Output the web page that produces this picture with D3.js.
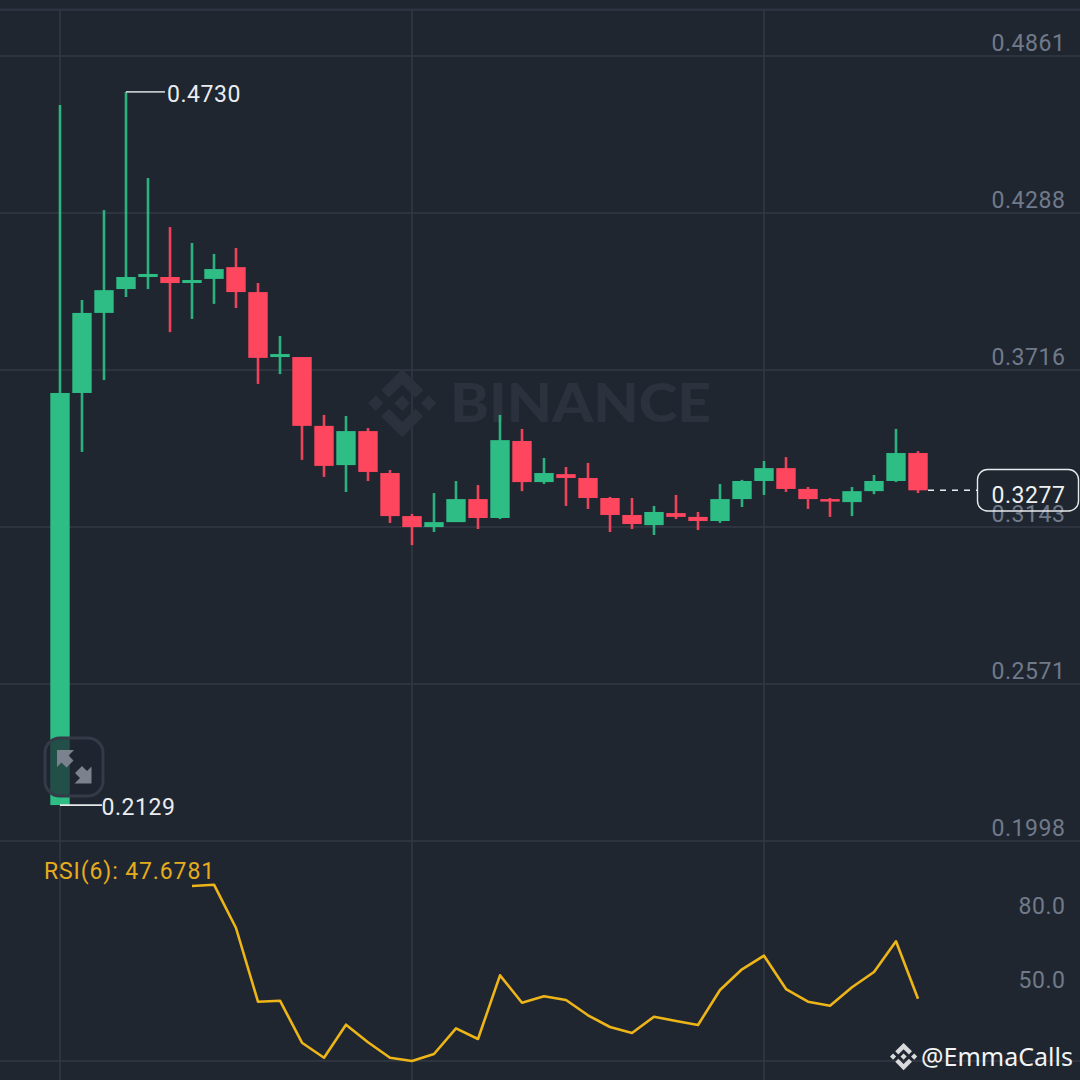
<!DOCTYPE html>
<html><head><meta charset="utf-8">
<script src="https://cdn.jsdelivr.net/npm/d3@7/dist/d3.min.js"></script>
<style>html,body{margin:0;padding:0;background:#1f2630}svg{display:block}text{font-family:Roboto,sans-serif}</style>
</head><body><svg id="c" width="1080" height="1080"></svg>
<script>
const opens=[.2129,.3632,.3924,.4011,.4055,.4055,.4033,.4048,.4091,.4000,.3763,.3763,.3512,.3369,.3493,.3340,.3183,.3143,.3161,.3245,.3176,.3457,.3307,.3336,.3322,.3249,.3187,.3150,.3194,.3180,.3165,.3245,.3311,.3358,.3282,.3245,.3234,.3274,.3311,.3413];
const closes=[.3632,.3924,.4007,.4055,.4066,.4033,.4044,.4084,.4000,.3760,.3774,.3512,.3366,.3493,.3344,.3183,.3143,.3161,.3245,.3176,.3460,.3307,.3340,.3322,.3249,.3187,.3154,.3198,.3180,.3165,.3245,.3311,.3358,.3282,.3245,.3238,.3274,.3311,.3413,.3277];
const highs=[.4682,.3971,.4299,.4730,.4416,.4237,.4179,.4139,.4161,.4033,.3840,.3763,.3552,.3548,.3504,.3351,.3191,.3267,.3311,.3296,.3552,.3501,.3395,.3362,.3377,.3253,.3249,.3220,.3260,.3198,.3300,.3315,.3384,.3398,.3289,.3249,.3289,.3333,.3501,.3420];
const lows=[.2129,.3417,.3679,.3982,.4011,.3854,.3902,.3957,.3942,.3665,.3701,.3388,.3326,.3271,.3311,.3158,.3077,.3125,.3161,.3136,.3172,.3274,.3300,.3220,.3209,.3125,.3136,.3114,.3172,.3132,.3158,.3216,.3260,.3271,.3209,.3180,.3183,.3263,.3307,.3267];
const rsiValues=[93.4,93.9,76.35,46.47,46.88,29.85,23.77,37.15,30.02,23.77,22.44,25.27,35.69,31.35,57.17,46.07,48.66,47.16,40.96,36.22,33.79,40.39,38.65,37.03,51.22,59.61,65.12,51.62,46.47,44.85,52.31,58.51,70.96,47.68];
const rsiStart=6;
const priceTicks=[.4861,.4288,.3716,.3143,.2571,.1998];
const rsiTicks=[80,50];
const rsiFloor=[22.44];
const timeTicks=[0,16,32];
const lastPrice=.3277, highMark=.4730, highIdx=3, lowMark=.2129, lowIdx=0;

const GREEN="#2ebd85",RED="#ff465f",GRID="#333945",BG="#1f2630";
const LOGO="M38.73 53.2l24.59-24.58 24.6 24.6 14.3-14.31L63.32 0 24.42 38.9l14.31 14.3zM0 63.31l14.3-14.31 14.31 14.31-14.31 14.3zM38.73 73.41l24.59 24.59 24.6-24.6 14.31 14.29-38.9 38.91-38.91-38.88-.02-.02zM98 63.31l14.3-14.31 14.31 14.3-14.31 14.32zM77.83 63.3L63.32 48.78 52.59 59.51l-1.24 1.23-2.54 2.54 14.51 14.5 14.51-14.47z";
const NUM_SPACING="0.55px";

const svg=d3.select("#c");
svg.append("rect").attr("width",1080).attr("height",1080).attr("fill",BG);
const x=d3.scaleLinear().domain([0,39]).range([60,918]);
const y=d3.scaleLinear().domain([.4861,.1998]).range([56,841]);
const yR=d3.scaleLinear().domain([80,50]).range([919,993]);

// top border
svg.append("rect").attr("x",0).attr("y",8.5).attr("width",1080).attr("height",2.5).attr("fill","#2d3340");

// vertical grid
const gx=svg.append("g").attr("transform","translate(0,1080)")
  .call(d3.axisTop(x).tickValues(timeTicks).tickSize(1069).tickFormat("").offset(0));
gx.select(".domain").remove();
gx.selectAll("line").attr("stroke",GRID).attr("stroke-width",1.5);

// price axis with gridlines
const gy=svg.append("g").attr("transform","translate(1080,0)")
  .call(d3.axisLeft(y).tickValues(priceTicks).tickSize(1080).tickFormat(d3.format(".4f")).offset(0));
gy.select(".domain").remove();
gy.selectAll("line").attr("stroke",GRID).attr("stroke-width",1.5);
gy.selectAll("text").attr("x",-14.5).attr("y",-13).attr("dy",".36em").attr("text-anchor","end")
  .attr("fill","#707a8a").style("font-size","23px").style("font-family","Roboto,sans-serif").style("letter-spacing",NUM_SPACING);

// RSI axis
const gr=svg.append("g").attr("transform","translate(1080,0)")
  .call(d3.axisLeft(yR).tickValues(rsiTicks).tickSize(0).tickFormat(d3.format(".1f")).offset(0));
gr.select(".domain").remove();
gr.selectAll("text").attr("x",-14.5).attr("y",-13).attr("dy",".36em").attr("text-anchor","end")
  .attr("fill","#707a8a").style("font-size","23px").style("font-family","Roboto,sans-serif").style("letter-spacing",NUM_SPACING);
svg.selectAll(".rf").data(rsiFloor).join("line").attr("x1",0).attr("x2",1080)
  .attr("y1",d=>yR(d)).attr("y2",d=>yR(d)).attr("stroke",GRID).attr("stroke-width",1.5);

// watermark
const wm=svg.append("g").attr("fill","#2c323d");
wm.append("path").attr("d",LOGO).attr("transform","translate(368,369) scale(0.54)");
wm.append("text").text("BINANCE").attr("x",450).attr("y",422).attr("textLength",261).attr("lengthAdjust","spacingAndGlyphs")
  .style("font-family","Lato,sans-serif").style("font-weight",900).style("font-size","54px");

// candles
const idx=d3.range(opens.length);
const col=i=>closes[i]>=opens[i]?GREEN:RED;
svg.append("g").selectAll("line").data(idx).join("line")
  .attr("x1",x).attr("x2",x).attr("y1",i=>y(highs[i])).attr("y2",i=>y(lows[i]))
  .attr("stroke",col).attr("stroke-width",2.6).attr("stroke-opacity",.92);
svg.append("g").selectAll("rect").data(idx).join("rect")
  .attr("x",i=>x(i)-9.7).attr("width",19.4)
  .attr("y",i=>y(Math.max(opens[i],closes[i])))
  .attr("height",i=>Math.max(2.5,Math.abs(y(opens[i])-y(closes[i]))))
  .attr("fill",col);

// expand button
svg.append("rect").attr("x",45).attr("y",738).attr("width",58).attr("height",58).attr("rx",15)
  .attr("fill","rgba(31,38,48,.72)").attr("stroke","#343a47").attr("stroke-width",3);
const icon=svg.append("g").attr("fill","#7c828d");
icon.append("path").attr("d","M57 750L74 750L68.5 755.5L73.5 760.5L66.5 767.5L61.5 762.5L57 767Z");
icon.append("path").attr("d","M91.5 783.5L74.5 783.5L80 778L75 773L82 766L87 771L91.5 766.5Z");

// high/low callouts
svg.append("path").attr("d",`M${x(highIdx)} ${y(highMark)}H165`).attr("fill","none").attr("stroke","#c3c6cb").attr("stroke-width",1.6);
svg.append("text").text(d3.format(".4f")(highMark)).attr("x",167).attr("y",y(highMark)+10).attr("fill","#eaecef").style("font-size","23px").style("letter-spacing",NUM_SPACING);
svg.append("path").attr("d",`M${x(lowIdx)} ${y(lowMark)}H102`).attr("fill","none").attr("stroke","#e6e8ea").attr("stroke-width",1.6);
svg.append("text").text(d3.format(".4f")(lowMark)).attr("x",101.5).attr("y",y(lowMark)+10).attr("fill","#eaecef").style("font-size","23px").style("letter-spacing",NUM_SPACING);

// last price
svg.append("line").attr("x1",x(39)+10).attr("x2",977).attr("y1",y(lastPrice)).attr("y2",y(lastPrice))
  .attr("stroke","#eaecef").attr("stroke-width",1.4).attr("stroke-dasharray","6 6");
svg.append("rect").attr("x",977.5).attr("y",469.5).attr("width",101).attr("height",41.5).attr("rx",10)
  .attr("fill","none").attr("stroke","#e8eaed").attr("stroke-width",1.4);
svg.append("text").text(d3.format(".4f")(lastPrice)).attr("x",1065.5).attr("y",503).attr("text-anchor","end").attr("fill","#eef0f2").style("font-size","23px").style("letter-spacing",NUM_SPACING);

// RSI
const line=d3.line().x((d,i)=>x(i+rsiStart)).y(d=>yR(d));
svg.append("path").attr("d",line(rsiValues)).attr("fill","none").attr("stroke","#edb518").attr("stroke-width",2.6).attr("stroke-linejoin","round");
svg.append("text").text("RSI(6): 47.6781").attr("x",44).attr("y",879).attr("fill","#e5ac1e").style("font-size","23px").style("letter-spacing","0.88px");

// signature
svg.append("path").attr("d",LOGO).attr("fill","#d9dadb").attr("transform","translate(890,1043) scale(0.215)");
svg.append("text").text("@EmmaCalls").attr("x",921).attr("y",1066).attr("fill","#f2f3f4").style("font-family","'Noto Sans',sans-serif").style("font-size","25px");
</script></body></html>
